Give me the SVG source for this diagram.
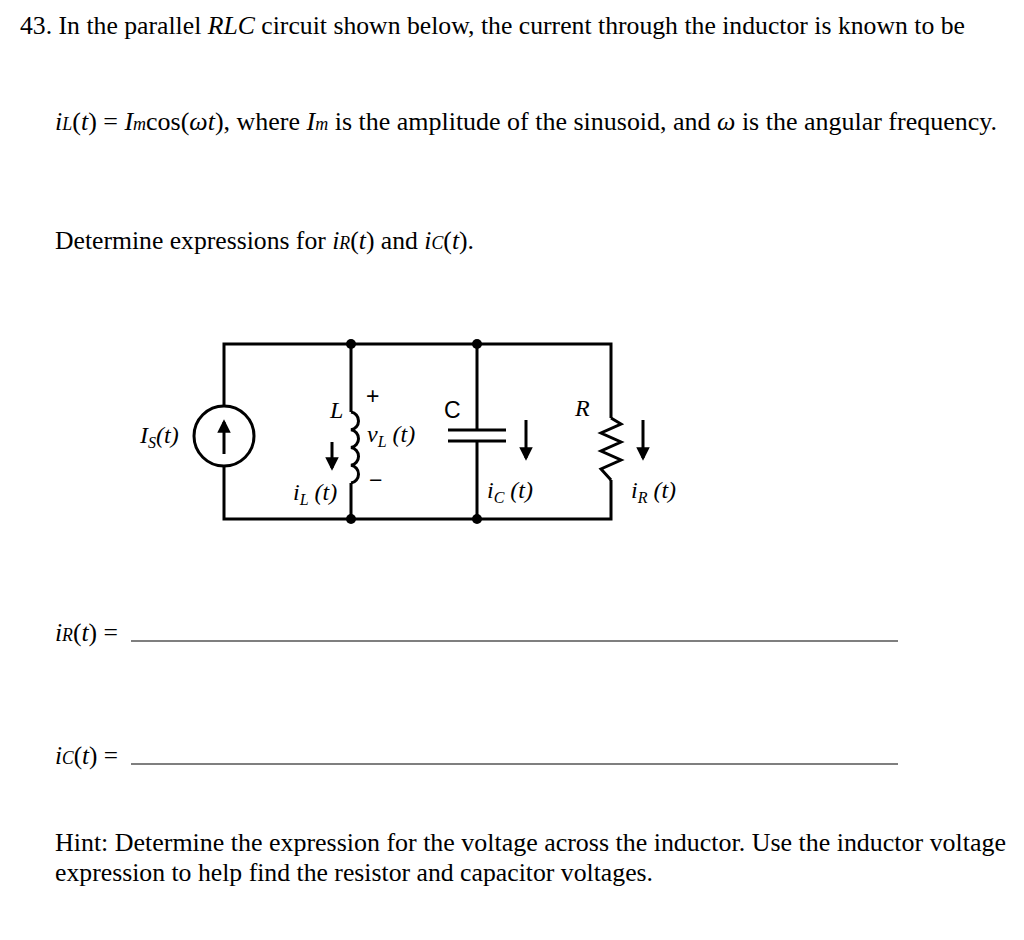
<svg xmlns="http://www.w3.org/2000/svg" width="1024" height="940" viewBox="0 0 1024 940">
<style>
.t{font-family:"Liberation Serif",serif;font-size:26px;fill:#000}
.c{font-family:"Liberation Serif",serif;font-size:24px;fill:#000;font-style:italic}
.s{font-family:"Liberation Sans",sans-serif;font-size:23px;fill:#000}
.w{stroke:#000;stroke-width:3;fill:none}
</style>
<defs><marker id="a" viewBox="0 0 10 10" refX="8" refY="5" markerWidth="4.5" markerHeight="4.5" orient="auto"><path d="M0,0L10,5L0,10z" fill="#000"/></marker></defs>
<rect width="1024" height="940" fill="#fff"/>
<text class="t" x="20" y="34" textLength="945" lengthAdjust="spacingAndGlyphs">43. In the parallel <tspan font-style="italic">RLC</tspan> circuit shown below, the current through the inductor is known to be</text>
<text class="t" x="55" y="130" textLength="942" lengthAdjust="spacingAndGlyphs"><tspan font-style="italic">i</tspan><tspan font-size="18" font-style="italic">L</tspan>(<tspan font-style="italic">t</tspan>) = <tspan font-style="italic">I</tspan><tspan font-size="18" font-style="italic">m</tspan>cos(<tspan font-style="italic">ωt</tspan>), where <tspan font-style="italic">I</tspan><tspan font-size="18" font-style="italic">m</tspan> is the amplitude of the sinusoid, and <tspan font-style="italic">ω</tspan> is the angular frequency.</text>
<text class="t" x="55" y="249" textLength="419" lengthAdjust="spacingAndGlyphs">Determine expressions for <tspan font-style="italic">i</tspan><tspan font-size="18" font-style="italic">R</tspan>(<tspan font-style="italic">t</tspan>) and <tspan font-style="italic">i</tspan><tspan font-size="18" font-style="italic">C</tspan>(<tspan font-style="italic">t</tspan>).</text>
<g id="connectors">
<path class="w" d="M224,406V344H611V418M611,480V519H224V466M351,344V412M351,483V519M477,344V430M477,441V519"/>
</g>
<g id="source"><circle class="w" cx="224" cy="436" r="30"/><line class="w" x1="224" y1="454" x2="224" y2="422" marker-end="url(#a)"/><text class="c" x="140" y="443">I<tspan font-size="16" dy="5">S</tspan><tspan dy="-5">(t)</tspan></text></g>
<g id="inductor"><path class="w" d="M351,412a9,9 0 0 1 0,17.75a9,9 0 0 1 0,17.75a9,9 0 0 1 0,17.75a9,9 0 0 1 0,17.75"/>
<text class="c" x="330" y="418">L</text><text class="s" x="366" y="404">+</text><text class="s" x="369" y="488">−</text>
<text class="c" x="367" y="442">v<tspan font-size="16" dy="5">L</tspan><tspan dy="-5"> (t)</tspan></text>
<line class="w" x1="332" y1="442" x2="332" y2="468" marker-end="url(#a)"/>
<text class="c" x="293" y="500">i<tspan font-size="16" dy="5">L</tspan><tspan dy="-5"> (t)</tspan></text></g>
<g id="capacitor"><path class="w" d="M448,430H506M448,441H506"/><text class="s" x="444" y="418">C</text>
<line class="w" x1="526" y1="420" x2="526" y2="458" marker-end="url(#a)"/>
<text class="c" x="487" y="498">i<tspan font-size="16" dy="5">C</tspan><tspan dy="-5"> (t)</tspan></text></g>
<g id="resistor"><path class="w" d="M611,418L621,424L601,433L621,442L601,451L621,460L601,469L611,480"/><text class="c" x="575" y="416">R</text>
<line class="w" x1="643" y1="420" x2="643" y2="458" marker-end="url(#a)"/>
<text class="c" x="631" y="498">i<tspan font-size="16" dy="5">R</tspan><tspan dy="-5"> (t)</tspan></text></g>
<g id="nodes"><circle cx="351" cy="344" r="5"/><circle cx="477" cy="344" r="5"/><circle cx="351" cy="519" r="5"/><circle cx="477" cy="519" r="5"/></g>
<text class="t" x="55" y="641" textLength="63" lengthAdjust="spacingAndGlyphs"><tspan font-style="italic">i</tspan><tspan font-size="18" font-style="italic">R</tspan>(<tspan font-style="italic">t</tspan>) =</text>
<line x1="131" y1="641" x2="898" y2="641" stroke="#000" stroke-width="1.2"/>
<text class="t" x="55" y="764" textLength="63" lengthAdjust="spacingAndGlyphs"><tspan font-style="italic">i</tspan><tspan font-size="18" font-style="italic">C</tspan>(<tspan font-style="italic">t</tspan>) =</text>
<line x1="131" y1="764" x2="898" y2="764" stroke="#000" stroke-width="1.2"/>
<text class="t" x="55" y="851" textLength="951" lengthAdjust="spacingAndGlyphs">Hint: Determine the expression for the voltage across the inductor.  Use the inductor voltage</text>
<text class="t" x="55" y="881" textLength="598" lengthAdjust="spacingAndGlyphs">expression to help find the resistor and capacitor voltages.</text>
</svg>
